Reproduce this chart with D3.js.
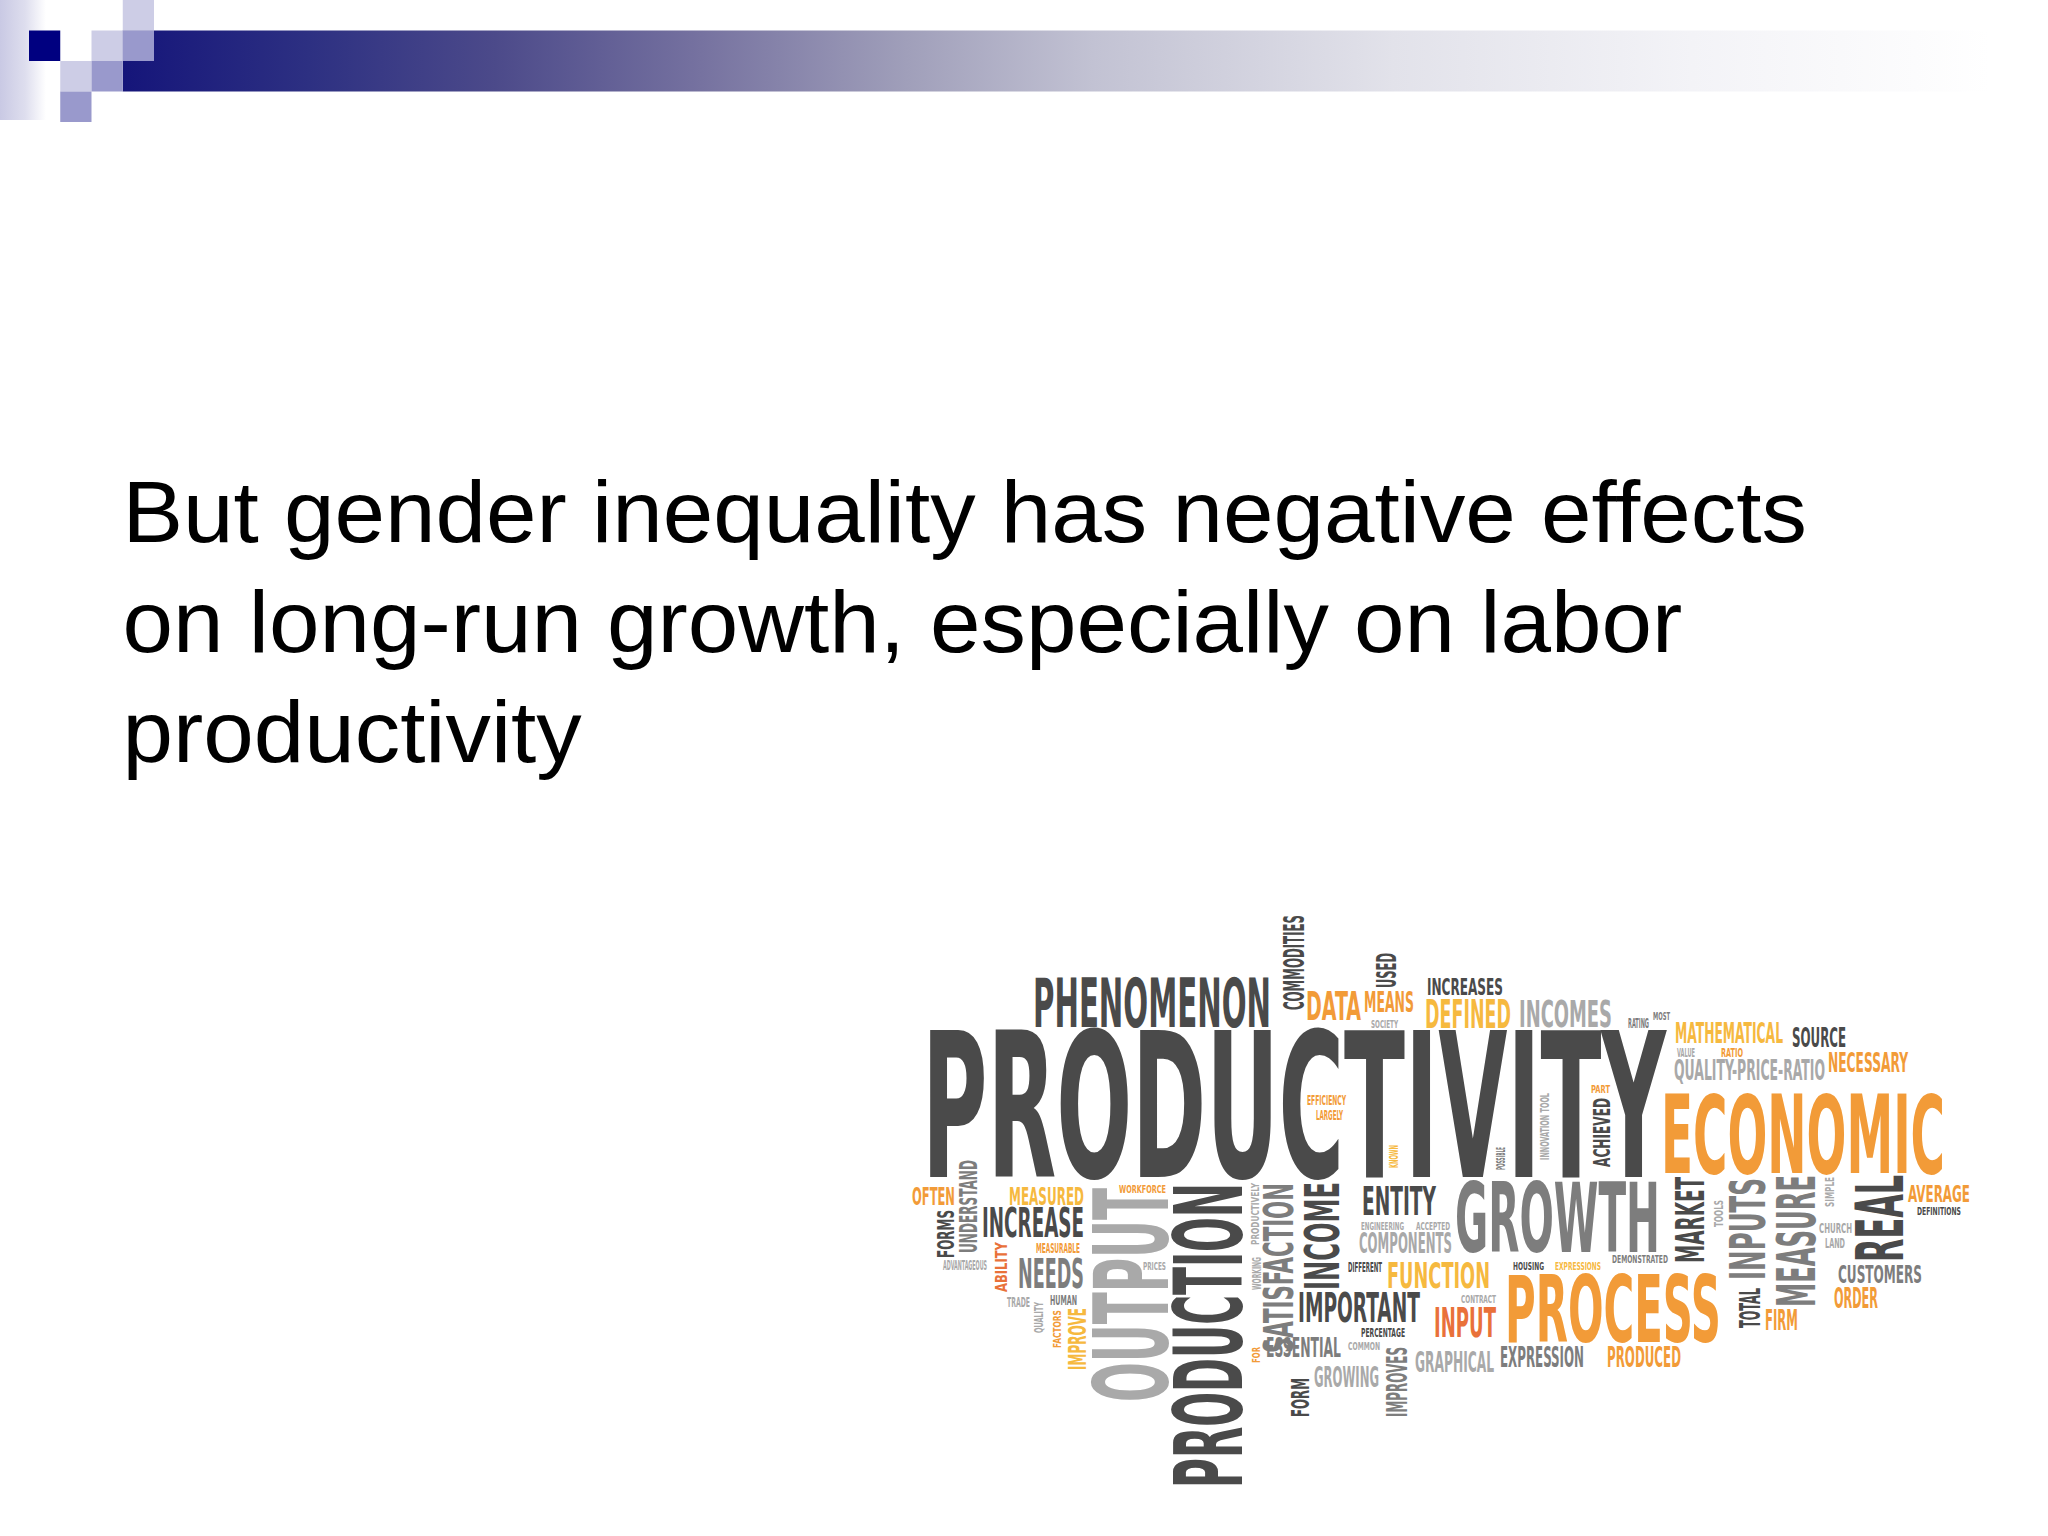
<!DOCTYPE html>
<html>
<head>
<meta charset="utf-8">
<script src="https://cdn.jsdelivr.net/npm/d3@7"></script>
<style>
  html, body { margin: 0; padding: 0; background: #fff; }
  svg { display: block; }
</style>
</head>
<body>
<div id="slide"></div>
<script>
// slide text
const titleLines = [
  "But gender inequality has negative effects",
  "on long-run growth, especially on labor",
  "productivity"
];

// corner pixel squares of the template: [col, row, shade]
const squareCols = [0, 1, 2, 3];
const squareCells = [[0, 1, "dark"], [2, 1, "light"], [3, 1, "mid"], [3, 0, "light"],
                     [1, 2, "light"], [2, 2, "mid"], [1, 3, "mid"]];

// word cloud: words, tone and whether the word stands upright
const cloudWords = [
  "PHENOMENON", "DATA", "MEANS", "SOCIETY", "INCREASES", "DEFINED", "INCOMES", "RATING", "MOST",
  "PRODUCTIVITY", "MATHEMATICAL", "SOURCE", "VALUE", "RATIO", "QUALITY-PRICE-RATIO", "NECESSARY",
  "ECONOMIC", "EFFICIENCY", "LARGELY", "PART", "OFTEN", "ADVANTAGEOUS", "MEASURED", "INCREASE",
  "MEASURABLE", "NEEDS", "TRADE", "HUMAN", "WORKFORCE", "PRICES", "ENTITY", "ENGINEERING",
  "ACCEPTED", "COMPONENTS", "DIFFERENT", "FUNCTION", "IMPORTANT", "PERCENTAGE", "ESSENTIAL",
  "COMMON", "GROWING", "GRAPHICAL", "EXPRESSION", "PRODUCED", "INPUT", "CONTRACT", "PROCESS",
  "HOUSING", "EXPRESSIONS", "DEMONSTRATED", "GROWTH", "FIRM", "CHURCH", "LAND", "AVERAGE",
  "DEFINITIONS", "CUSTOMERS", "ORDER",
  "COMMODITIES", "USED", "KNOWN", "ACHIEVED", "INNOVATION TOOL", "POSSIBLE", "UNDERSTAND", "FORMS",
  "ABILITY", "QUALITY", "FACTORS", "IMPROVE", "OUTPUT", "PRODUCTION", "PRODUCTIVELY", "WORKING",
  "SATISFACTION", "INCOME", "FORM", "IMPROVES", "MARKET", "TOOLS", "INPUTS", "TOTAL", "MEASURE",
  "SIMPLE", "REAL", "FOR"
];
const cloudTones = [
  "dark", "orange", "orange", "light", "dark", "yellow", "light", "mid", "mid",
  "dark", "yellow", "dark", "light", "orange", "light", "orange",
  "orange", "orange", "orange", "orange", "orange", "light", "yellow", "dark",
  "orange", "mid", "light", "mid", "orange", "light", "dark", "light",
  "light", "light", "dark", "yellow", "dark", "dark", "mid",
  "light", "light", "light", "mid", "orange", "red", "light", "orange",
  "dark", "yellow", "mid", "mid", "orange", "light", "light", "orange",
  "dark", "mid", "orange",
  "dark", "dark", "yellow", "dark", "light", "mid", "mid", "dark",
  "red", "light", "orange", "yellow", "light", "dark", "light", "light",
  "mid", "dark", "dark", "mid", "dark", "light", "mid", "dark", "mid",
  "light", "dark", "orange"
];
const cloudUpright = cloudWords.map((w, i) => i >= 58);

// where each word sits in the cloud picture: [left, top, right, bottom]
const cloudBoxes = [
  [1033, 978, 1271, 1027], [1306, 992, 1361, 1020], [1364, 992, 1414, 1012], [1371, 1020, 1398, 1028],
  [1427, 978, 1503, 995], [1425, 1000, 1511, 1028], [1519, 1000, 1612, 1027], [1628, 1018, 1649, 1028],
  [1653, 1013, 1670, 1020], [922, 1032, 1666, 1177], [1675, 1023, 1783, 1043], [1792, 1028, 1846, 1047],
  [1677, 1048, 1695, 1057], [1721, 1048, 1743, 1057], [1674, 1060, 1825, 1080], [1828, 1053, 1908, 1072],
  [1661, 1095, 1945, 1173], [1307, 1095, 1346, 1105], [1316, 1110, 1343, 1120], [1591, 1085, 1610, 1093],
  [912, 1187, 955, 1205], [943, 1260, 987, 1270], [1009, 1187, 1084, 1205], [982, 1208, 1084, 1237],
  [1036, 1243, 1080, 1253], [1018, 1258, 1084, 1288], [1007, 1297, 1030, 1307], [1050, 1295, 1077, 1305],
  [1119, 1185, 1166, 1193], [1143, 1262, 1166, 1270], [1362, 1187, 1436, 1215], [1361, 1222, 1404, 1230],
  [1416, 1222, 1450, 1230], [1359, 1233, 1452, 1253], [1348, 1262, 1382, 1272], [1387, 1262, 1490, 1288],
  [1298, 1293, 1420, 1322], [1361, 1328, 1405, 1337], [1266, 1338, 1341, 1357], [1348, 1343, 1380, 1350],
  [1314, 1367, 1379, 1387], [1415, 1352, 1494, 1372], [1500, 1347, 1584, 1367], [1607, 1347, 1681, 1367],
  [1434, 1307, 1496, 1337], [1461, 1295, 1496, 1303], [1505, 1275, 1721, 1342], [1513, 1262, 1544, 1270],
  [1555, 1262, 1601, 1270], [1612, 1255, 1668, 1263], [1455, 1183, 1660, 1252], [1765, 1310, 1798, 1330],
  [1819, 1223, 1852, 1233], [1825, 1238, 1845, 1248], [1908, 1185, 1970, 1202], [1917, 1207, 1961, 1215],
  [1838, 1265, 1922, 1283], [1834, 1288, 1878, 1308],
  [1284, 915, 1304, 1010], [1377, 953, 1396, 988], [1389, 1145, 1398, 1168], [1594, 1098, 1610, 1167],
  [1540, 1093, 1549, 1160], [1496, 1147, 1505, 1170], [959, 1160, 977, 1253], [937, 1210, 954, 1258],
  [996, 1242, 1007, 1292], [1034, 1302, 1043, 1333], [1053, 1310, 1061, 1348], [1068, 1308, 1086, 1370],
  [1093, 1188, 1168, 1402], [1174, 1183, 1242, 1488], [1252, 1183, 1259, 1245], [1252, 1257, 1261, 1290],
  [1264, 1183, 1293, 1353], [1304, 1182, 1339, 1290], [1291, 1378, 1309, 1417], [1387, 1347, 1407, 1417],
  [1676, 1177, 1704, 1263], [1714, 1200, 1723, 1227], [1729, 1178, 1765, 1280], [1740, 1288, 1760, 1328],
  [1777, 1175, 1815, 1307], [1825, 1177, 1834, 1207], [1855, 1175, 1903, 1262], [1253, 1347, 1260, 1363]
];

const W = 2048, H = 1536;
const toneColor = {
  dark: "#4a4a4a", mid: "#7d7d7d", light: "#a9a9a9",
  orange: "#f29b38", yellow: "#f6b93f", red: "#e9713a"
};
const shadeColor = { dark: "#000080", mid: "#9999cc", light: "#cdcde6" };

const svg = d3.select("#slide").append("svg")
  .attr("width", W)
  .attr("height", H)
  .attr("viewBox", `0 0 ${W} ${H}`);

svg.append("rect").attr("width", W).attr("height", H).attr("fill", "#fff");

const defs = svg.append("defs");

// header bar gradient
const barGrad = defs.append("linearGradient").attr("id", "bar-grad")
  .attr("gradientUnits", "userSpaceOnUse")
  .attr("x1", 122).attr("x2", 1990).attr("y1", 0).attr("y2", 0);
[[0, "#15157a"], [0.1, "#2d3082"], [0.2, "#4c4a8a"], [0.31, "#7672a0"],
 [0.42, "#a09fba"], [0.52, "#c2c2d3"], [0.68, "#e2e2ea"], [0.84, "#f3f3f7"], [1, "#ffffff"]]
  .forEach(([o, c]) => barGrad.append("stop").attr("offset", o).attr("stop-color", c));

const sideGrad = defs.append("linearGradient").attr("id", "side-grad")
  .attr("x1", 0).attr("x2", 1).attr("y1", 0).attr("y2", 0);
sideGrad.append("stop").attr("offset", 0).attr("stop-color", "#c9c9e4");
sideGrad.append("stop").attr("offset", 0.55).attr("stop-color", "#dedeee");
sideGrad.append("stop").attr("offset", 1).attr("stop-color", "#ffffff");

// corner grid
const cell = d3.scaleBand().domain(squareCols).range([29, 154]);
const rowY = d3.scaleBand().domain(squareCols).range([0, 122]);

svg.append("rect")
  .attr("x", 0).attr("y", 0)
  .attr("width", 46).attr("height", 120)
  .attr("fill", "url(#side-grad)");

svg.append("rect")
  .attr("x", cell(3)).attr("y", rowY(1))
  .attr("width", 1990 - cell(3)).attr("height", rowY.bandwidth() * 2)
  .attr("fill", "url(#bar-grad)");

svg.selectAll("rect.sq")
  .data(squareCells)
  .enter()
  .append("rect")
  .attr("class", "sq")
  .attr("x", d => cell(d[0]))
  .attr("y", d => rowY(d[1]))
  .attr("width", cell.bandwidth())
  .attr("height", rowY.bandwidth())
  .attr("fill", d => shadeColor[d[2]]);

// title (the slide picture is a touch wider than Arial, hence the x stretch)
const lineY = d3.scaleLinear().domain([0, 1]).range([542, 652]);
svg.append("g")
  .attr("transform", "translate(122.5,0) scale(1.032,1)")
  .selectAll("text")
  .data(titleLines)
  .enter()
  .append("text")
  .attr("x", 0)
  .attr("y", (d, i) => lineY(i))
  .attr("font-family", "'Liberation Sans', Arial, sans-serif")
  .attr("font-size", 88)
  .attr("fill", "#000")
  .text(d => d);

// word cloud, placed in the picture's own pixel frame
const cx = d3.scaleLinear().domain([900, 2000]).range([900, 2000]);
const cy = d3.scaleLinear().domain([900, 1500]).range([900, 1500]);
const capRatio = 0.72;

const cloud = cloudWords.map((w, i) => ({
  word: w, tone: cloudTones[i], up: cloudUpright[i], box: cloudBoxes[i]
}));

svg.append("g")
  .attr("font-family", "'Liberation Sans Narrow', 'DejaVu Sans Condensed', sans-serif")
  .attr("font-weight", "bold")
  .selectAll("text")
  .data(cloud)
  .enter()
  .append("text")
  .attr("transform", d => {
    const [x0, y0, x1, y1] = d.box;
    return d.up
      ? `translate(${cx(x1)},${cy(y1)}) rotate(-90)`
      : `translate(${cx(x0)},${cy(y1)})`;
  })
  .attr("font-size", d => {
    const [x0, y0, x1, y1] = d.box;
    return d.up ? (cx(x1) - cx(x0)) / capRatio : (cy(y1) - cy(y0)) / capRatio;
  })
  .attr("textLength", d => {
    const [x0, y0, x1, y1] = d.box;
    return d.up ? cy(y1) - cy(y0) : cx(x1) - cx(x0);
  })
  .attr("lengthAdjust", "spacingAndGlyphs")
  .attr("fill", d => toneColor[d.tone])
  .text(d => d.word);
</script>
</body>
</html>
